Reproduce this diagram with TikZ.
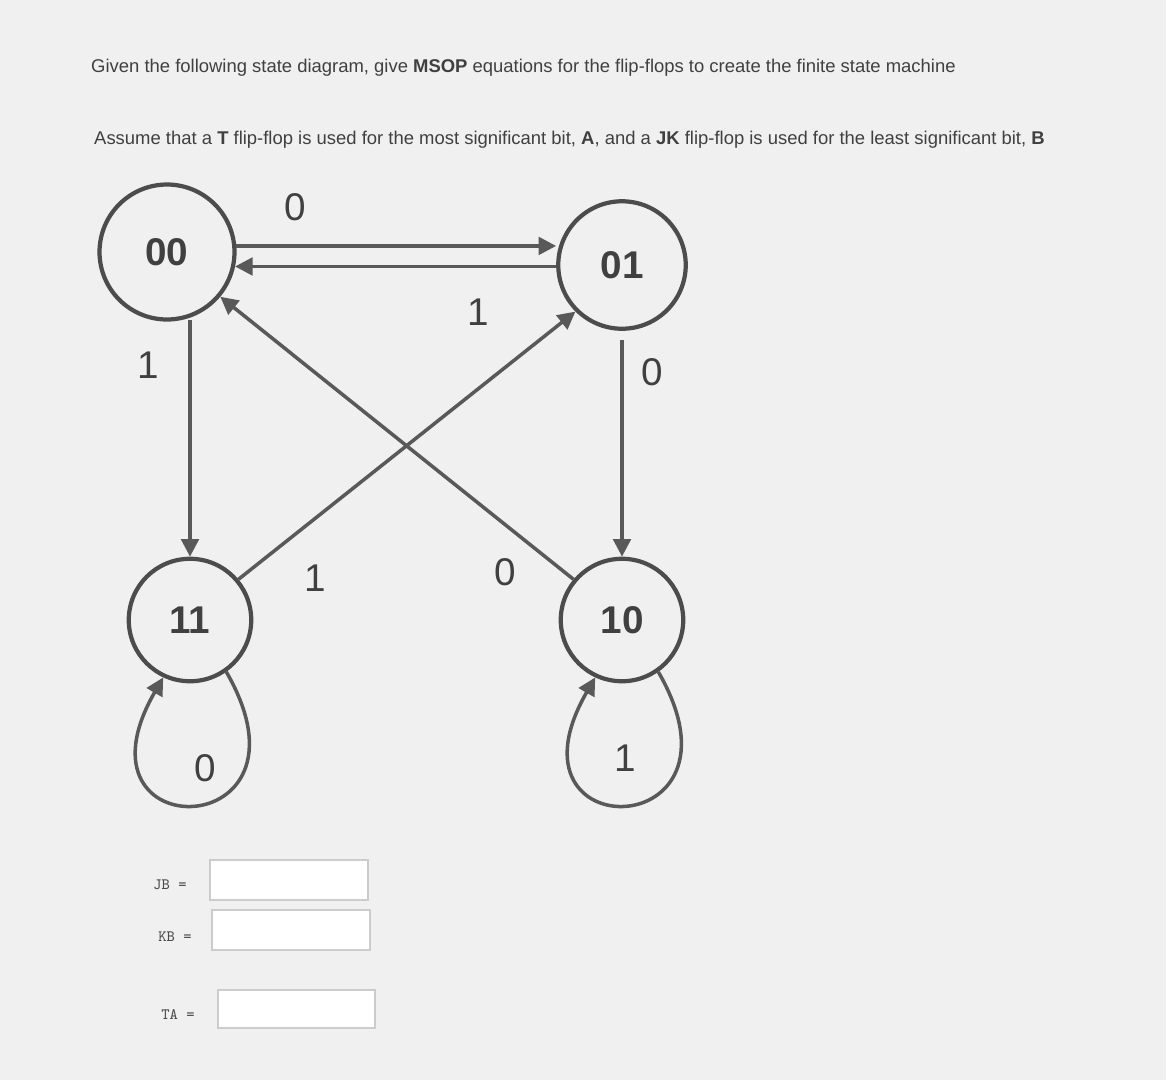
\documentclass[tikz,border=0pt]{standalone}
\usepackage{fontspec}
\setmainfont{Liberation Sans}
\usetikzlibrary{arrows.meta}
\begin{document}
\begin{tikzpicture}[x=0.02cm,y=-0.02cm,
  st/.style={circle,draw=black!70,line width=2.4pt,minimum size=2.55cm,inner sep=0pt,font=\fontsize{22}{26}\selectfont\bfseries,text=black!75},
  arr/.style={draw=black!65,line width=2pt,-{Triangle[length=10pt,width=10pt]}},
  lab/.style={font=\fontsize{22}{26}\selectfont,text=black!75},
  hd/.style={anchor=west,text=black!75},
  bx/.style={draw=black!20,fill=white,line width=0.6pt},
  fl/.style={font=\ttfamily\fontsize{9}{11}\selectfont,text=black!70}]
\fill[black!6] (0,0) rectangle (1166,1080);
\useasboundingbox (0,0) rectangle (1166,1080);
\node[hd,font=\fontsize{10.5}{12}\selectfont] (t1) at (85,68) {Given the following state diagram, give \textbf{MSOP} equations for the flip-flops to create the finite state machine};
\node[hd,font=\fontsize{10.5}{12}\selectfont] (t2) at (88,140) {Assume that a \textbf{T} flip-flop is used for the most significant bit, \textbf{A}, and a \textbf{JK} flip-flop is used for the least significant bit, \textbf{B}};
\node[st,minimum size=2.7cm] (s00) at (167,252) {00};
\node[st] (s01) at (622,265) {01};
\node[st,minimum size=2.45cm] (s11) at (190,620) {11};
\node[st,minimum size=2.45cm] (s10) at (622,620) {10};
\draw[arr] (s00.5) -- (s01.west |- s00.5);
\draw[arr] (s01.west |- s00.-12) -- (s00.-12);
\draw[arr] (190,320) -- (s11.north);
\draw[arr] (622,340) -- (s10.north);
\draw[arr] (s11.40) -- (s01.225);
\draw[arr] (s10.140) -- (s00.-40);
\draw[arr] (s11.-55) .. controls +(60:200) and +(120:200) .. (s11.-115);
\draw[arr] (s10.-55) .. controls +(60:200) and +(120:200) .. (s10.-115);
\node[lab] (l1) at (295,207) {0};
\node[lab] (l2) at (148,365) {1};
\node[lab] (l3) at (652,372) {0};
\node[lab] (l4) at (478,312) {1};
\node[lab] (l5) at (315,578) {1};
\node[lab] (l6) at (505,572) {0};
\node[lab] (l7) at (205,768) {0};
\node[lab] (l8) at (625,758) {1};
\node[fl] (jb) at (170,885) {JB =};
\node[fl] (kb) at (175,937) {KB =};
\node[fl] (ta) at (178,1015) {TA =};
\draw[bx] (210,860) rectangle (368,900);
\draw[bx] (212,910) rectangle (370,950);
\draw[bx] (218,990) rectangle (375,1028);
\end{tikzpicture}
\end{document}
